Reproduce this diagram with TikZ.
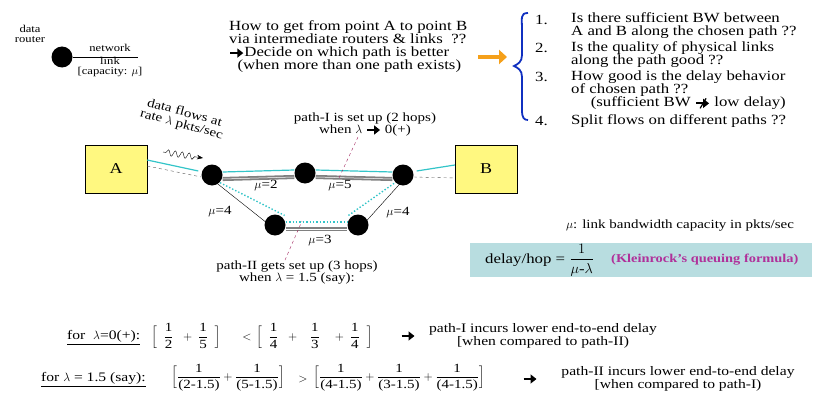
\documentclass[tikz,border=0pt]{standalone}
\usepackage{amsmath,amssymb}
\usepackage{fontspec}
\setmainfont{Liberation Serif}[FakeStretch=1.2]
\usetikzlibrary{decorations.pathmorphing,arrows.meta}
\definecolor{cy}{HTML}{33C4C8}
\definecolor{mar}{HTML}{A0205A}
\definecolor{org}{HTML}{F5A01A}
\definecolor{blu}{HTML}{1030C0}
\definecolor{pale}{HTML}{B8DDE0}
\definecolor{mag}{HTML}{B0309A}
\newcommand\barr{\tikz[baseline=-3pt,x=1pt,y=1pt]\draw[line width=2.2pt,-{Triangle[length=6pt,width=9pt]}] (0,0)--(13,0);}
\newcommand\nbarr{\tikz[baseline=-3pt,x=1pt,y=1pt]{\draw[line width=2.2pt,-{Triangle[length=6pt,width=9pt]}] (0,0)--(13,0);\draw[line width=1.2pt](4,-5)--(10,5);}}
\newcommand\fr[2]{\dfrac{\text{#1}}{\text{#2}}}
\tikzset{
 rt/.style={circle,fill=black,minimum size=21pt,inner sep=0pt},
 bx/.style={draw,fill=yellow!50,minimum width=62pt,minimum height=48pt,font=\fontsize{15}{16}\selectfont},
 t/.style={font=\fontsize{14}{13}\selectfont,inner sep=1pt},
 s/.style={font=\fontsize{12.5}{12}\selectfont,inner sep=1pt},
 e/.style={font=\fontsize{13}{13}\selectfont,inner sep=1pt},
 m/.style={font=\fontsize{12.5}{12}\selectfont,inner sep=1pt},
 cyl/.style={cy,line width=1.2pt},
 dbl/.style={gray,line width=1.8pt,double=white,double distance=0.5pt},
 dot/.style={cy,line width=1.4pt,dotted},
 ptr/.style={mar,dashed,thin}
}
\begin{document}
\begin{tikzpicture}[x=1pt,y=-1pt]
\useasboundingbox (0,0) rectangle (832,420);
% legend
\node[align=center,font=\fontsize{10.5}{10}\selectfont,inner sep=0pt] (dr) at (30,34) {data\\router};
\node[rt] (lr) at (62,57) {};
\coordinate (le) at (138,57);
\draw (lr) -- (le);
\node[font=\fontsize{10.5}{10}\selectfont,inner sep=0pt] at (110,48) {network};
\node[font=\fontsize{10.5}{10}\selectfont,inner sep=0pt] at (110,61) {link};
\node[font=\fontsize{10.5}{10}\selectfont,inner sep=0pt] at (110,72) {[capacity: $\mu$]};
% top text
\node[t,align=left,anchor=north west] (q) at (228,19) {How to get from point A to point B\\via intermediate routers \& links\ \ ??\\\barr Decide on which path is better\\\ \ (when more than one path exists)};
\draw[org,line width=4pt,-{Triangle[length=8pt,width=14pt]}] (478,57) -- (507,57);
\draw[blu,line width=1.8pt] (528,13) .. controls (520,13) and (522,18) .. (522,30) -- (522,55) .. controls (522,62) and (518,64) .. (514,66) .. controls (518,68) and (522,70) .. (522,77) -- (522,110) .. controls (522,118) and (524,120) .. (528,120);
\begin{scope}[every node/.style={t,anchor=west,align=left}]
\node at (534,20) {1.}; \node at (570,26) {Is there sufficient BW between\\A and B along the chosen path ??};
\node at (534,48) {2.}; \node at (570,55) {Is the quality of physical links\\along the path good ??};
\node at (534,77) {3.}; \node at (570,90) {How good is the delay behavior\\of chosen path ??\\\hspace*{1.4em}(sufficient BW \nbarr\ low delay)};
\node at (534,121) {4.}; \node at (570,121) {Split flows on different paths ??};
\end{scope}
% network
\node[bx] (A) at (116,169) {A};
\node[bx] (B) at (486,169) {B};
\node[rt] (n1) at (212,175) {};
\node[rt] (n2) at (305,173) {};
\node[rt] (n3) at (403,175) {};
\node[rt] (n4) at (275,225) {};
\node[rt] (n5) at (358,225) {};
\draw[cyl] (A.east|-0,160) -- ([shift={(-3,-4)}]n1.west);
\draw[dashed,gray!70!black] (A.east|-0,166) -- ([shift={(0,2)}]n1.west);
\draw[cyl] ([shift={(3,-4)}]n3.east) -- (B.west|-0,165);
\draw[dashed,gray!70!black] ([shift={(0,2)}]n3.east) -- (B.west|-0,178);
\draw[dbl] ([shift={(0,4)}]n1.east) -- ([shift={(0,4)}]n2.west);
\draw[dbl] ([shift={(0,4)}]n2.east) -- ([shift={(0,4)}]n3.west);
\draw[cyl] ([shift={(0,-3)}]n1.east) -- ([shift={(0,-3)}]n2.west);
\draw[cyl] ([shift={(0,-3)}]n2.east) -- ([shift={(0,-3)}]n3.west);
\draw ([shift={(-3,2)}]n1.center) -- ([shift={(-3,2)}]n4.center);
\draw ([shift={(3,2)}]n5.center) -- ([shift={(3,2)}]n3.center);
\draw[dbl] ([shift={(0,4)}]n4.east) -- ([shift={(0,4)}]n5.west);
\draw[dot] ([shift={(8,-3)}]n1.south) -- ([shift={(2,-2)}]n4.north east);
\draw[dot] ([shift={(0,-3)}]n4.east) -- ([shift={(0,-3)}]n5.west);
\draw[dot] ([shift={(-2,-2)}]n5.north west) -- ([shift={(-8,-3)}]n3.south);
\node[s] at (266,186) {$\mu$=2};
\node[s] at (340,186) {$\mu$=5};
\node[s] at (220,212) {$\mu$=4};
\node[s] at (398,213) {$\mu$=4};
\node[s] at (320,241) {$\mu$=3};
\node[s,align=center] (p1) at (365,124) {path-I is set up (2 hops)\\when $\lambda$ \barr\ 0(+)};
\coordinate (p1e) at (338,180);
\draw[ptr] (358,137) -- (p1e);
\node[s,align=center] (p2) at (297,273) {path-II gets set up (3 hops)\\when $\lambda$ = 1.5 (say):};
\coordinate (p2e) at (302,221);
\draw[ptr] ([shift={(-12,0)}]p2.north) -- (p2e);
\node[s,rotate=-15,align=center] (df) at (183,119) {data flows at\\rate $\lambda$ pkts/sec};
\draw[-{Stealth[length=6pt]},decorate,decoration={snake,amplitude=3pt,segment length=7pt,post length=6pt,pre length=3pt}] (163,152) -- (203,158);
% side
\node[s] at (680,226) {$\mu$: link bandwidth capacity in pkts/sec};
\node[fill=pale,minimum width=342pt,minimum height=34pt] (dh) at (641,260) {};
\node[t,anchor=west] at (484,260) {delay/hop = $\dfrac{1}{\mu\text{-}\lambda}$};
\node[s,anchor=west,mag,font=\fontsize{12}{12}\bfseries] at (610,260) {(Kleinrock's queuing formula)};
% equations row 1
\node[e,anchor=west] (l1) at (66,338) {\underline{for\ \ $\lambda$=0(+):}};
\node[m,anchor=west] (g11) at (150,336) {$\Big[\;\;\fr12\;\;+\;\fr15\;\;\Big]$};
\node[e] (lt) at (247,337) {$<$};
\node[m,anchor=west] (g12) at (255,336) {$\Big[\;\;\fr14\;\;+\;\;\;\fr13\quad+\;\fr14\;\;\Big]$};
\node[e] (a1) at (408,336) {\barr};
\node[e,align=center] (r1) at (543,336) {path-I incurs lower end-to-end delay\\{}[when compared to path-II)};
% row 2
\node[e,anchor=west] (l2) at (40,380) {\underline{for $\lambda$ = 1.5 (say):}};
\node[m,anchor=west] (g21) at (170,378) {$\Big[\fr{1}{(2-1.5)}+\fr{1}{(5-1.5)}\Big]$};
\node[e] (gt) at (303,379) {$>$};
\node[m,anchor=west] (g22) at (312,378) {$\Big[\fr{1}{(4-1.5)}+\fr{1}{(3-1.5)}+\fr{1}{(4-1.5)}\Big]$};
\node[e] (a2) at (530,379) {\barr};
\node[e,align=center] (r2) at (678,379) {path-II incurs lower end-to-end delay\\{}[when compared to path-I)};
\end{tikzpicture}
\end{document}
